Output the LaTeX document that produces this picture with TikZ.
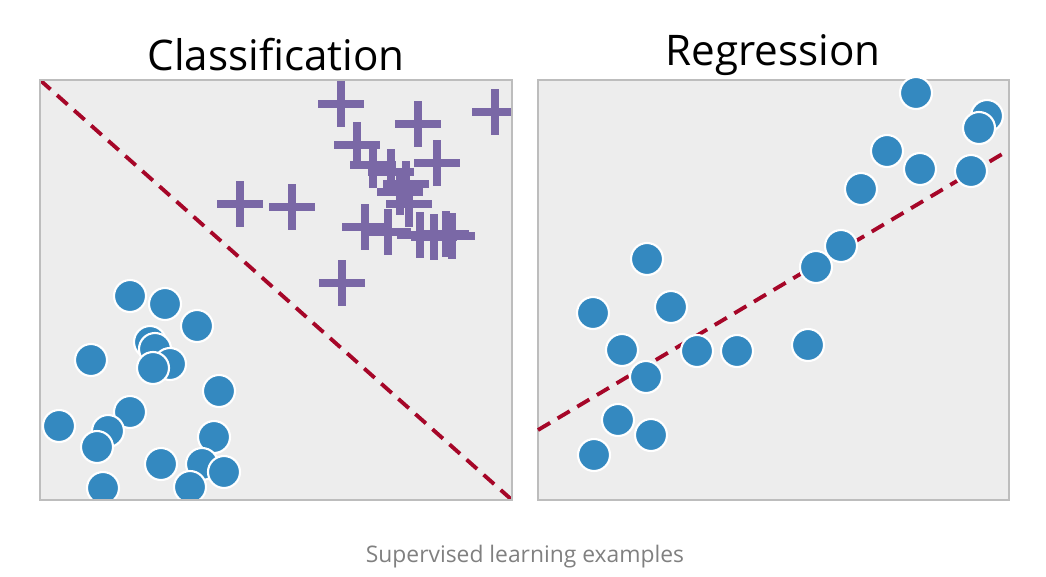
\documentclass[tikz,border=0pt]{standalone}
\usepackage{fontspec}
\setmainfont{Open Sans}
\definecolor{panelgray}{HTML}{EDEDED}
\definecolor{framegray}{HTML}{BDBDBD}
\definecolor{dotblue}{HTML}{3489C0}
\definecolor{crosspurple}{HTML}{7A68A6}
\definecolor{fitred}{HTML}{A60628}
\begin{document}
\begin{tikzpicture}
[
	              x = 0.02cm,
	              y = -0.02cm,
	  panel/.style = { fill=panelgray, draw=framegray, line width=1.5pt },
	    dot/.style = { fill=dotblue, draw=white, line width=1.2pt },
	  cross/.style = { draw=crosspurple, line width=4pt },
	    fit/.style = { draw=fitred, line width=2.2pt, dash pattern=on 8pt off 5pt },
	  title/.style = { font=\fontsize{24}{28}\selectfont }
]
	\useasboundingbox (0,0) rectangle (1046,576);

	% classification
	\node (T1) at (276,55) [title] {Classification};
	\draw [panel] (40,80) rectangle (512,500);
	\begin{scope}
		\clip (40,80) rectangle (512,500);
		\foreach \px/\py in {130/296,165/304,197/326,150/342,155/349,170/364,153/368,91/360,219/391,59/426,130/412,108/431,97/447,214/437,161/464,202/464,224/472,103/488,190/487}
			\draw [dot] (\px,\py) circle (16);
		\foreach \px/\py in {341/104,495/112,418/124,357/145,373/165,437/163,391/172,406/184,400/192,240/204,292/207,409/204,365/227,388/232,420/235,446/234,434/237,452/236,342/283}
			\draw [cross] (\px-23,\py) -- (\px+23,\py) (\px,\py-23) -- (\px,\py+23);
		\coordinate (L1) at (40,80);
		\coordinate (L2) at (512,500);
		\draw [fit] (L1) -- (L2);
	\end{scope}
	\draw [draw=framegray, line width=1.5pt] (40,80) rectangle (512,500);

	% regression
	\node (T2) at (773,55) [title] {Regression};
	\draw [panel] (538,80) rectangle (1009,500);
	\coordinate (R1) at (538,430);
	\coordinate (R2) at (1009,150);
	\draw [fit] (R1) -- (R2);
	\foreach \px/\py in {916/93,987/116,979/128,887/151,920/169,971/171,861/189,841/246,816/267,647/259,593/313,671/307,622/350,697/351,737/351,808/345,646/377,618/420,651/435,594/455}
		\draw [dot] (\px,\py) circle (16);

	% caption
	\node (C) at (525,557) [text=gray, font=\fontsize{13}{15}\selectfont] {Supervised learning examples};
\end{tikzpicture}
\end{document}
